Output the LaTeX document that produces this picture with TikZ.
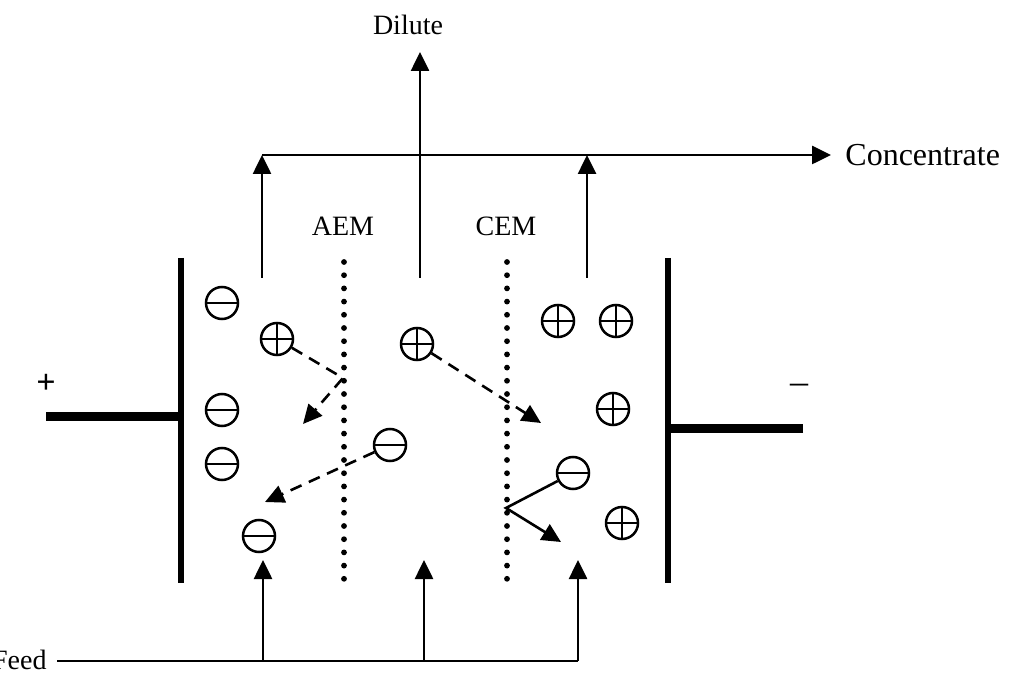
\documentclass[tikz,border=0pt]{standalone}
\usepackage{fontspec}
\setmainfont{Liberation Serif}
\usetikzlibrary{arrows.meta}

\begin{document}
\begin{tikzpicture}[
  x=0.5pt, y=-0.5pt,
  font=\fontsize{14}{16}\selectfont,
  ion/.style      ={circle, draw, line width=1.25pt, minimum size=16pt, inner sep=0pt},
  anion/.style    ={ion, path picture={\draw[line width=1.25pt]
                      (path picture bounding box.west) -- (path picture bounding box.east);}},
  cation/.style   ={ion, path picture={\draw[line width=1.25pt]
                      (path picture bounding box.west) -- (path picture bounding box.east)
                      (path picture bounding box.north) -- (path picture bounding box.south);}},
  pipe/.style     ={line width=1.3pt},
  flow/.style     ={pipe, -{Triangle[length=9.5pt,width=9pt]}},
  drift/.style    ={flow, dash pattern=on 6pt off 4pt},
  electrode/.style={line width=3pt},
  lead/.style     ={line width=4.5pt},
  membrane/.style ={line width=2.9pt, line cap=round, dash pattern=on 0pt off 6.6pt},
  lab/.style      ={inner sep=0pt},
]
\useasboundingbox (0,0) rectangle (1036,683);

% ================= ELECTRODES =================
\coordinate (anT)  at (181,258);
\coordinate (anB)  at (181,583);
\coordinate (catT) at (668,258);
\coordinate (catB) at (668,583);
\coordinate (anW)  at (46,416);
\coordinate (catE) at (803,428);
\draw[electrode] (anT) -- (anB);
\draw[electrode] (catT) -- (catB);
\draw[lead] (anW) -- (anW -| anT);
\draw[lead] (catE) -- (catE -| catT);
\node[lab, font=\fontsize{17}{18}\selectfont\bfseries] (plus)  at (46,384)  {+};
\node[lab, font=\fontsize{18}{18}\selectfont] (minus) at (799,389) {\textendash};

% ================= MEMBRANES =================
\coordinate (aemT) at (344,262);
\coordinate (aemB) at (344,583);
\coordinate (cemT) at (507,262);
\coordinate (cemB) at (507,583);
\draw[membrane] (aemT) -- (aemB);
\draw[membrane] (cemT) -- (cemB);
\node[lab] (aem) at (343,226) {AEM};
\node[lab] (cem) at (506,226) {CEM};

% ================= OUTLETS =================
\coordinate (cL)     at (262,278);
\coordinate (dM)     at (420,278);
\coordinate (cR)     at (587,278);
\coordinate (hdr)    at (262,155);
\coordinate (dilTip) at (420,52);
\node[lab] (dil) at (408,25) {Dilute};
\node[lab, anchor=west, font=\fontsize{16}{18}\selectfont] (conc) at (845,155) {Concentrate};
\draw[flow] (cL) -- (cL |- hdr);
\draw[flow] (cR) -- (cR |- hdr);
\draw[flow] (hdr) -- ([xshift=-7pt]conc.west);
\draw[flow] (dM) -- (dilTip);

% ================= FEED =================
\node[lab, anchor=base east] (feed) at (47,669) {Feed};
\coordinate (fIn) at (57,661);
\coordinate (fL)  at (263,661);
\coordinate (fM)  at (424,661);
\coordinate (fR)  at (578,661);
\draw[pipe] (fIn) -- (fR);
\draw[flow] (fL) -- ++(0,-101);
\draw[flow] (fM) -- ++(0,-101);
\draw[flow] (fR) -- ++(0,-101);

% ================= IONS =================
\node[anion]  (a1) at (222,303) {};
\node[cation] (k1) at (277,339) {};
\node[anion]  (a2) at (222,410) {};
\node[anion]  (a3) at (222,464) {};
\node[anion]  (a4) at (259,536) {};
\node[cation] (k2) at (417,344) {};
\node[anion]  (a5) at (390,445) {};
\node[cation] (k3) at (558,321) {};
\node[cation] (k4) at (616,321) {};
\node[cation] (k5) at (613,409) {};
\node[anion]  (a6) at (573,473) {};
\node[cation] (k6) at (622,523) {};

% ================= ION PATHS =================
\coordinate (hitA)    at (343,378);
\coordinate (bounceA) at (303,424);
\coordinate (passA)   at (265,502);
\coordinate (passC)   at (541,423);
\coordinate (hitC)    at (506,508);
\coordinate (bounceC) at (561,542);
\draw[drift] (k1) -- (hitA) -- (bounceA);
\draw[drift] (a5) -- (passA);
\draw[drift] (k2) -- (passC);
\draw[flow]  (a6) -- (hitC) -- (bounceC);

\end{tikzpicture}
\end{document}
